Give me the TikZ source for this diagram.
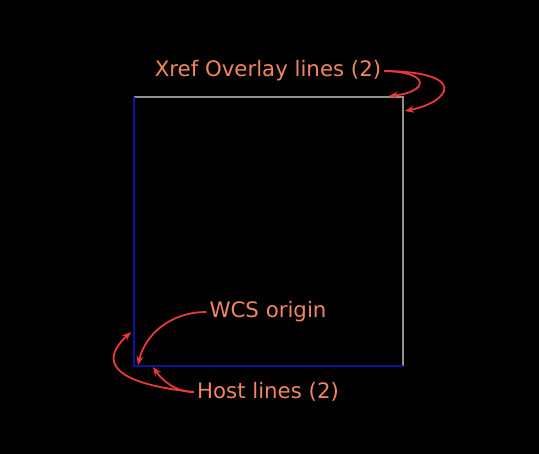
\documentclass[tikz,border=0pt]{standalone}
\usepackage{fontspec}
\setmainfont{DejaVu Sans}
\usetikzlibrary{arrows.meta}
\definecolor{lbl}{HTML}{F2875F}
\definecolor{arr}{HTML}{E83A3A}
\definecolor{host}{HTML}{1010A0}
\definecolor{xref}{HTML}{909090}
\begin{document}
\begin{tikzpicture}[x=1pt,y=-1pt,
  label/.style={text=lbl,font=\fontsize{21.3}{25}\selectfont,inner sep=1pt},
  callout/.style={draw=arr,line width=1.8pt,-{Stealth[length=9pt,width=7pt]}}]
\fill[black] (0,0) rectangle (539,454);
\useasboundingbox (0,0) rectangle (539,454);
\coordinate (tl) at (134,97);
\coordinate (tr) at (403,97);
\coordinate (br) at (403,366);
\coordinate (bl) at (134,366);
\draw[xref,line width=1.5pt] (tl) -- (tr) -- (br);
\draw[host,line width=1.5pt] (tl) -- (bl) -- (br);
\node[label] (xr) at (268,71) {Xref Overlay lines (2)};
\node[label] (wcs) at (268,312) {WCS origin};
\node[label] (hl) at (268,392) {Host lines (2)};
\coordinate (t1) at (389,96);
\coordinate (t2) at (405,111);
\coordinate (t3) at (138,365);
\coordinate (t4) at (153,367);
\coordinate (t5) at (131,332);
\draw[callout] (xr.east) ++(2,0) .. controls (432,72) and (428,92) .. (t1);
\draw[callout] (xr.east) ++(2,0) .. controls (470,72) and (450,102) .. (t2);
\draw[callout] (wcs.west) ++(-2,0) .. controls (170,312) and (145,335) .. (t3);
\draw[callout] (hl.west) ++(-2,0) .. controls (175,392) and (162,380) .. (t4);
\draw[callout] (hl.west) ++(-2,0) .. controls (135,386) and (90,370) .. (t5);
\end{tikzpicture}
\end{document}
